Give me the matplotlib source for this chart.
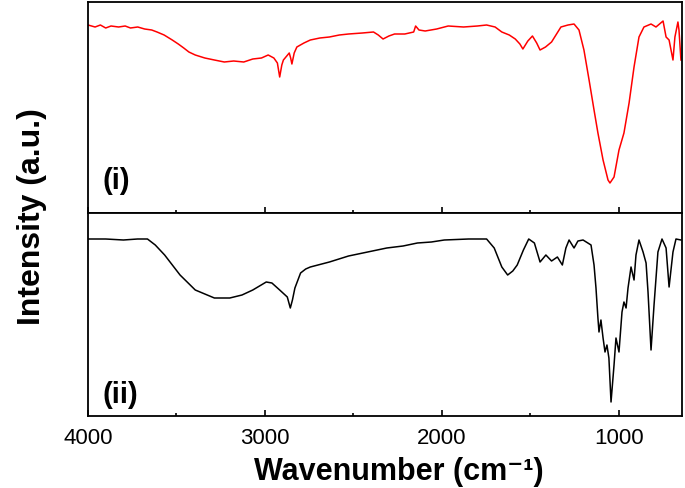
import numpy as np
import matplotlib.pyplot as plt
from matplotlib.ticker import MultipleLocator, NullLocator

# (i) red spectrum, wavenumber (cm-1) and intensity (a.u.)
wn_i = [4000, 3960, 3930, 3900, 3870, 3827, 3790, 3760, 3719, 3680, 3640,
        3610, 3570, 3524, 3490, 3459, 3430, 3394, 3340, 3286, 3230, 3177,
        3120, 3069, 3020, 2982, 2950, 2930, 2917, 2905, 2896, 2863, 2855,
        2848, 2835, 2820, 2780, 2744, 2690, 2636, 2580, 2528, 2450, 2387,
        2360, 2333, 2300, 2268, 2210, 2160, 2149, 2130, 2095, 2030, 1965,
        1878, 1800, 1748, 1700, 1662, 1620, 1586, 1560, 1543, 1515, 1489,
        1465, 1446, 1415, 1381, 1328, 1288, 1254, 1226, 1198, 1169, 1141,
        1119, 1090, 1062, 1051, 1028, 1000, 972, 943, 915, 887, 859, 819,
        791, 751, 734, 717, 695, 684, 667, 661, 650]
int_i = [188, 186, 188, 185, 187, 186, 187, 185, 186, 184, 183,
         181, 178, 173, 169, 165, 161, 158, 155, 153, 151, 152,
         151, 154, 155, 158, 155, 150, 136, 148, 153, 160, 155,
         149, 160, 166, 170, 173, 175, 176, 178, 179, 180, 181,
         178, 174, 177, 179, 179, 181, 187, 183, 182, 184, 187,
         186, 187, 188, 186, 181, 178, 174, 169, 164, 172, 177,
         170, 163, 166, 171, 186, 188, 189, 183, 163, 133, 103,
         80, 53, 33, 30, 36, 63, 80, 110, 146, 176, 186, 189,
         186, 192, 176, 173, 153, 176, 191, 183, 153]

# (ii) black spectrum
wn_ii = [4000, 3900, 3800, 3720, 3664, 3620, 3567, 3480, 3394, 3286, 3199,
         3130, 3069, 2993, 2961, 2917, 2874, 2857, 2845, 2831, 2799, 2770,
         2744, 2636, 2528, 2420, 2312, 2220, 2139, 2060, 1987, 1850, 1748,
         1705, 1662, 1629, 1600, 1575, 1540, 1510, 1478, 1446, 1413, 1381,
         1348, 1320, 1300, 1282, 1254, 1232, 1203, 1158, 1141, 1130, 1119,
         1113, 1102, 1090, 1079, 1068, 1057, 1045, 1028, 1017, 1000, 983,
         972, 960, 949, 932, 915, 904, 887, 864, 847, 836, 819, 802, 780,
         757, 734, 717, 695, 678, 650]
int_ii = [177, 177, 176, 177, 177, 171, 161, 141, 126, 118, 118,
          121, 126, 134, 133, 126, 119, 108, 116, 128, 143, 147,
          149, 154, 160, 164, 168, 170, 173, 174, 176, 177, 177,
          168, 149, 141, 145, 151, 166, 177, 173, 154, 161, 155,
          159, 151, 168, 176, 168, 175, 176, 171, 151, 128, 98,
          84, 96, 78, 64, 71, 58, 14, 51, 78, 64, 104,
          114, 108, 128, 149, 136, 161, 176, 164, 153, 124, 66, 111, 164,
          177, 168, 129, 164, 177, 176]

fig = plt.figure(figsize=(6.85, 4.88), dpi=100)
gs = fig.add_gridspec(2, 1, height_ratios=[211, 203], hspace=0,
                      left=88/685, right=682/685, top=1-2/488, bottom=1-416/488)
ax1 = fig.add_subplot(gs[0])
ax2 = fig.add_subplot(gs[1], sharex=ax1)

ax1.plot(wn_i, int_i, color='#ff0000', lw=1.1)
ax2.plot(wn_ii, int_ii, color='black', lw=1.1)
ax1.set_ylim(0, 211)
ax2.set_ylim(0, 203)
ax1.set_xlim(4000, 644)

for ax in (ax1, ax2):
    ax.yaxis.set_major_locator(NullLocator())
    ax.xaxis.set_major_locator(MultipleLocator(1000))
    ax.xaxis.set_minor_locator(MultipleLocator(500))
    ax.tick_params(axis='x', which='both', direction='in', top=False, width=1.2)
    ax.tick_params(axis='x', which='major', length=4.5)
    ax.tick_params(axis='x', which='minor', length=2.5)
    for s in ax.spines.values():
        s.set_linewidth(1.3)
ax1.tick_params(axis='x', labelbottom=False)
ax2.tick_params(axis='x', labelsize=16, pad=9)
for lab in ax2.get_xticklabels():
    lab.set_fontfamily('Liberation Sans')

ax1.text(0.024, 0.152, '(i)', transform=ax1.transAxes, fontsize=21,
         fontweight='bold', family='Liberation Sans', va='center', ha='left')
ax2.text(0.024, 0.103, '(ii)', transform=ax2.transAxes, fontsize=21,
         fontweight='bold', family='Liberation Sans', va='center', ha='left')

fig.text(399/685, 1-480/488, 'Wavenumber (cm\u207b\u00b9)', fontsize=22,
         fontweight='bold', family=['Liberation Sans', 'DejaVu Sans'],
         ha='center', va='baseline')
fig.text(32/685, 1-217/488, 'Intensity (a.u.)', rotation=90, fontsize=23,
         fontweight='bold', family='Liberation Sans', va='center', ha='center')

fig.savefig('out.png', dpi=100)
